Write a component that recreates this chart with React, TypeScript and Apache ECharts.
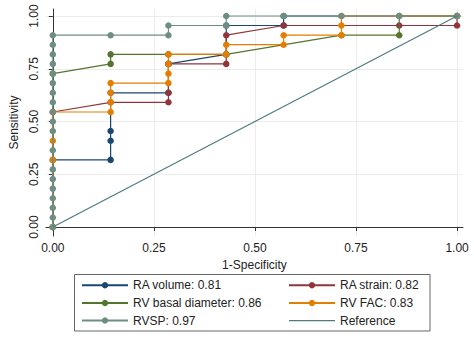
import React, { useEffect, useRef } from "react";
import * as echarts from "echarts";

// 1 - specificity (x) and sensitivity (y)
const raVolumeFpr = [0, 0, 0.143, 0.143, 0.143, 0.143, 0.286, 0.286, 0.429, 0.429, 0.571, 0.571, 1];
const raVolumeSens = [0, 0.318, 0.318, 0.409, 0.455, 0.636, 0.636, 0.773, 0.818, 0.955, 0.955, 1, 1];

const raStrainFpr = [0, 0, 0.143, 0.286, 0.286, 0.286, 0.429, 0.429, 0.571, 0.857, 1, 1];
const raStrainSens = [0, 0.545, 0.591, 0.591, 0.636, 0.773, 0.773, 0.909, 0.955, 0.955, 0.955, 1];

const rvBasalFpr = [0, 0, 0.143, 0.143, 0.286, 0.429, 0.714, 0.857, 0.857, 1];
const rvBasalSens = [0, 0.727, 0.773, 0.818, 0.818, 0.818, 0.909, 0.909, 1, 1];

const rvFacFpr = [0, 0, 0, 0, 0.143, 0.143, 0.143, 0.143, 0.286, 0.286, 0.286, 0.286, 0.429, 0.429, 0.571, 0.571, 0.714, 0.714, 0.714, 1];
const rvFacSens = [0, 0.318, 0.409, 0.545, 0.545, 0.591, 0.636, 0.682, 0.682, 0.727, 0.773, 0.818, 0.818, 0.864, 0.864, 0.909, 0.909, 0.955, 1, 1];

const rvspFpr = [0, 0, 0, 0, 0, 0, 0, 0, 0, 0, 0, 0, 0, 0, 0, 0, 0, 0, 0, 0.143, 0.286, 0.286, 0.429, 0.429, 0.571, 0.714, 0.857, 1];
const rvspSens = [0, 0.045, 0.091, 0.136, 0.182, 0.227, 0.273, 0.364, 0.455, 0.5, 0.545, 0.591, 0.636, 0.682, 0.727, 0.773, 0.818, 0.864, 0.909, 0.909, 0.909, 0.955, 0.955, 1, 1, 1, 1, 1];

const referenceFpr = [0, 1];
const referenceSens = [0, 1];

const tickValues = [0, 0.25, 0.5, 0.75, 1];

const seriesNames = [
  "RA volume: 0.81",
  "RA strain: 0.82",
  "RV basal diameter: 0.86",
  "RV FAC: 0.83",
  "RVSP: 0.97",
  "Reference",
];
const seriesColors = ["#1a476f", "#90353b", "#55752f", "#e37e00", "#6e8e84", "#4d7b7e"];

const FONT = "'Liberation Sans', Arial, Helvetica, sans-serif";

function pairs(xs: number[], ys: number[]) {
  return xs.map((x, i) => [x, ys[i]]);
}

export default function App() {
  const ref = useRef<HTMLDivElement>(null);
  useEffect(() => {
    document.body.style.margin = "0";
    const chart = echarts.init(ref.current!, undefined, { renderer: "svg" });
    const xs = [raVolumeFpr, raStrainFpr, rvBasalFpr, rvFacFpr, rvspFpr, referenceFpr];
    const ys = [raVolumeSens, raStrainSens, rvBasalSens, rvFacSens, rvspSens, referenceSens];
    const series = seriesNames.map((name, i) => ({
      name,
      type: "line",
      data: pairs(xs[i], ys[i]),
      symbol: i === 5 ? "none" : "circle",
      symbolSize: 6.5,
      showSymbol: i !== 5,
      lineStyle: { color: seriesColors[i], width: 1.2 },
      itemStyle: { color: seriesColors[i] },
      emphasis: { disabled: true },
      z: 2 + i,
    }));
    const axisCommon = {
      type: "value",
      axisLine: { show: true, lineStyle: { color: "#333", width: 1 } },
      axisTick: { show: true, length: 4, customValues: tickValues, lineStyle: { color: "#333" } },
      splitLine: { show: true, lineStyle: { color: "#ececec", width: 1 } },
      nameLocation: "middle",
      nameTextStyle: { fontFamily: FONT, fontSize: 12, color: "#222" },
    };
    const legendCommon = {
      orient: "vertical",
      padding: 0,
      itemWidth: 46,
      itemHeight: 8,
      itemGap: 3.7,
      top: 278.2,
      textStyle: { fontFamily: FONT, fontSize: 12, color: "#222", lineHeight: 14 },
      selectedMode: false,
    };
    chart.setOption({
      animation: false,
      backgroundColor: "#ffffff",
      grid: { left: 41, top: 9, right: 11, bottom: 102, containLabel: false },
      xAxis: {
        ...axisCommon,
        min: -0.0171,
        max: 1.0147,
        name: "1-Specificity",
        nameGap: 16,
        axisLabel: {
          customValues: tickValues,
          formatter: (v: number) => v.toFixed(2),
          fontFamily: FONT,
          fontSize: 12,
          color: "#222",
          margin: 6,
        },
      },
      yAxis: {
        ...axisCommon,
        min: -0.0427,
        max: 1.0332,
        name: "Sensitivity",
        nameGap: 23,
        axisLabel: {
          customValues: tickValues,
          formatter: (v: number) => v.toFixed(2),
          fontFamily: FONT,
          fontSize: 12,
          color: "#222",
          rotate: 90,
          margin: 6,
        },
      },
      legend: [
        {
          ...legendCommon,
          left: 81,
          data: [seriesNames[0], seriesNames[2], seriesNames[4]],
        },
        {
          ...legendCommon,
          left: 288,
          data: [
            seriesNames[1],
            seriesNames[3],
            { name: seriesNames[5], icon: "path://M0,0H46V1.2H0Z" },
          ],
        },
      ],
      graphic: [
        {
          type: "rect",
          shape: { x: 74.5, y: 274.5, width: 355.5, height: 56.5 },
          style: { fill: "none", stroke: "#666", lineWidth: 1 },
          silent: true,
        },
      ],
      series,
    });
    return () => chart.dispose();
  }, []);
  return <div ref={ref} style={{ width: 474, height: 338 }} />;
}
